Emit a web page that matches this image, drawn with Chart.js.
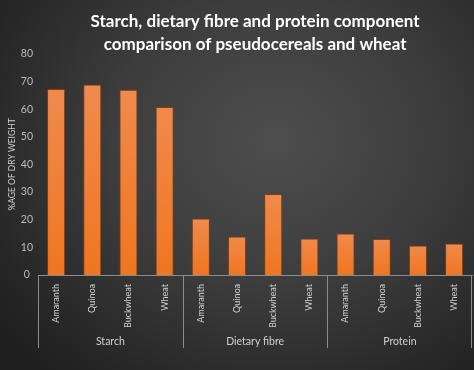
<!DOCTYPE html>
<html>
<head>
<meta charset="utf-8">
<script src="https://cdn.jsdelivr.net/npm/chart.js@4.4.1/dist/chart.umd.min.js"></script>
<style>
  html, body { margin: 0; padding: 0; }
  body {
    width: 474px; height: 370px; overflow: hidden;
    background: radial-gradient(ellipse 75% 85% at 58% 38%, #4e4e4e 0%, #3d3d3d 45%, #262626 85%, #1e1e1e 100%);
  }
  #wrap { position: relative; width: 474px; height: 370px; }
</style>
</head>
<body>
<div id="wrap"><canvas id="chart"></canvas></div>
<script>
const grains = ["Amaranth", "Quinoa", "Buckwheat", "Wheat"];
const groups = ["Starch", "Dietary fibre", "Protein"];
const starch = [67.3, 68.9, 67.0, 60.8];
const fibre = [20.4, 13.9, 29.3, 13.2];
const protein = [15.0, 13.0, 10.7, 11.4];
const yMax = 80;
const yStep = 10;

const labels = [...grains, ...grains, ...grains];
const values = [...starch, ...fibre, ...protein];

// lignes de séparation entre les groupes, sous l'axe
const groupLines = {
  id: "groupLines",
  afterDraw(chart) {
    const x = chart.scales.x;
    const x2 = chart.scales.x2;
    const ctx = chart.ctx;
    const per = grains.length;
    const xs = [chart.chartArea.left];
    for (let g = 1; g < groups.length; g++) {
      xs.push((x.getPixelForValue(g * per - 1) + x.getPixelForValue(g * per)) / 2);
    }
    xs.push(chart.chartArea.right - 1);
    ctx.save();
    ctx.strokeStyle = "#8c8c8c";
    ctx.lineWidth = 1;
    xs.forEach((px) => {
      const p = Math.round(px) + 0.5;
      ctx.beginPath();
      ctx.moveTo(p, chart.chartArea.bottom);
      ctx.lineTo(p, x2.bottom);
      ctx.stroke();
    });
    ctx.restore();
  },
};

new Chart(document.getElementById("chart"), {
  type: "bar",
  data: {
    labels: labels,
    datasets: [
      {
        data: values,
        backgroundColor: (c) => {
          const chart = c.chart;
          if (!chart.chartArea) return "#f07d2e";
          const y = chart.scales.y;
          const top = y.getPixelForValue(c.raw || 0);
          const bottom = y.getPixelForValue(0);
          if (!isFinite(top) || top === bottom) return "#f07d2e";
          const g = chart.ctx.createLinearGradient(0, top, 0, bottom);
          g.addColorStop(0, "#f08a4c");
          g.addColorStop(1, "#f07620");
          return g;
        },
        borderColor: "#7a3f1a",
        borderWidth: 1,
        categoryPercentage: 0.5,
        barPercentage: 1,
      },
    ],
  },
  options: {
    responsive: true,
    maintainAspectRatio: false,
    animation: false,
    layout: { padding: { left: 7, right: 0, top: 4, bottom: 22 } },
    plugins: {
      legend: { display: false },
      tooltip: { enabled: false },
      title: {
        display: true,
        fullSize: false,
        text: ["Starch, dietary fibre and protein component", "comparison of pseudocereals and wheat"],
        color: "#ffffff",
        font: { family: "Lato", size: 17, weight: "bold", lineHeight: 1.35 },
        padding: { top: 6, bottom: -2 },
      },
    },
    scales: {
      x: {
        grid: { display: false, drawTicks: false },
        border: { display: true, color: "#8c8c8c" },
        ticks: {
          color: "#d0d0d0",
          font: { family: "Lato", size: 9 },
          minRotation: 90,
          maxRotation: 90,
          autoSkip: false,
          padding: 9,
        },
        afterFit: (scale) => { scale.height = 52; },
      },
      x2: {
        type: "category",
        labels: groups,
        position: "bottom",
        offset: true,
        grid: { display: false, drawTicks: false },
        border: { display: false },
        ticks: { color: "#d0d0d0", font: { family: "Lato", size: 10.5 }, padding: 8 },
        afterFit: (scale) => { scale.height = 21; },
      },
      y: {
        min: 0,
        max: yMax,
        grid: { display: false, drawTicks: false },
        border: { display: false },
        ticks: {
          stepSize: yStep,
          color: "#bcbcbc",
          font: { family: "Lato", size: 10.5 },
          crossAlign: "center",
          padding: 5,
        },
        title: {
          display: true,
          text: "%AGE OF DRY WEIGHT",
          color: "#d0d0d0",
          font: { family: "Lato", size: 8.5 },
          padding: 0,
        },
        afterFit: (scale) => { scale.width = 31; },
      },
    },
  },
  plugins: [groupLines],
});
</script>
</body>
</html>
